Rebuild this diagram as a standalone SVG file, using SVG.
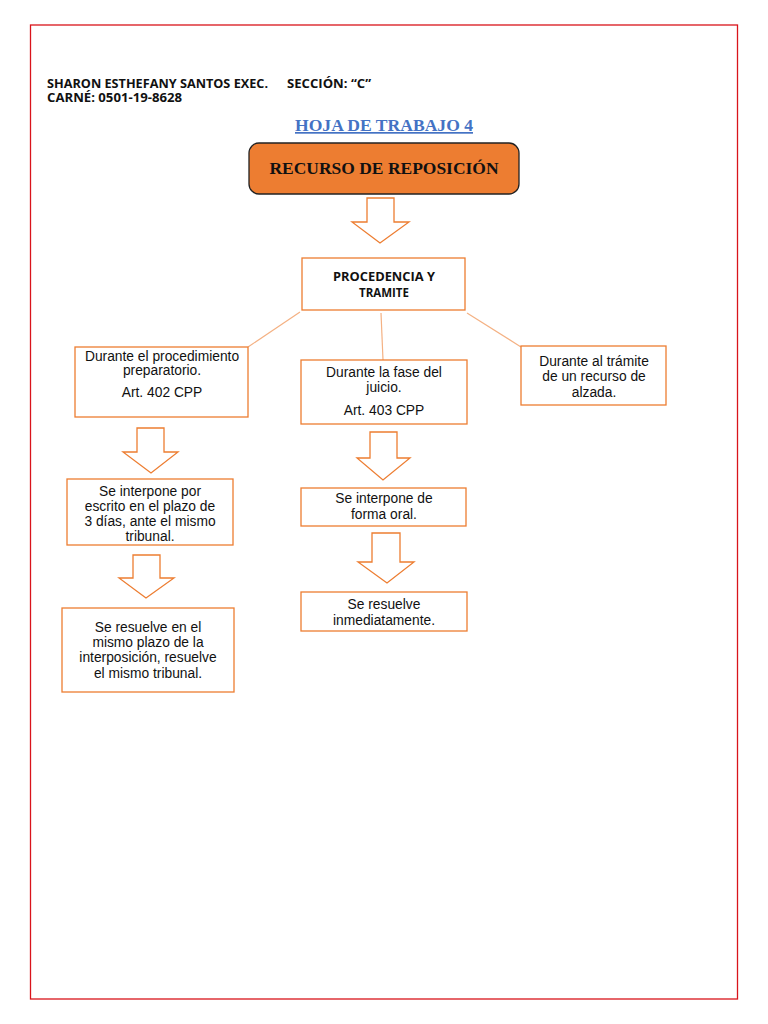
<svg xmlns="http://www.w3.org/2000/svg" width="768" height="1024" viewBox="0 0 768 1024">
<defs>
<style>
.box{fill:#fff;stroke:#ED7D31;stroke-width:1.3}
.arr{fill:#fff;stroke:#ED7D31;stroke-width:1.3;stroke-linejoin:miter}
.con{stroke:#F4B183;stroke-width:1.2;fill:none}
.t{font-family:"Liberation Sans",Arial,sans-serif;font-size:13.8px;fill:#111;text-anchor:middle}
.hd{font-family:"Open Sans","Liberation Sans",sans-serif;font-size:11.5px;font-weight:bold;fill:#111}
.pt{font-family:"Open Sans","Liberation Sans",sans-serif;font-size:11.5px;font-weight:bold;fill:#111;text-anchor:middle}
.serif{font-family:"Liberation Serif","Times New Roman",serif;font-weight:bold;text-anchor:middle}
</style>
</defs>
<rect width="768" height="1024" fill="#fff"/>
<rect x="30.5" y="25" width="707" height="974" fill="none" stroke="#D9141B" stroke-width="1.3"/>
<g id="header">
<text class="hd" x="47" y="88" textLength="221" lengthAdjust="spacingAndGlyphs">SHARON ESTHEFANY SANTOS EXEC.</text>
<text class="hd" x="287" y="88" textLength="84" lengthAdjust="spacingAndGlyphs">SECCIÓN: “C”</text>
<text class="hd" x="47" y="101.5" textLength="135" lengthAdjust="spacingAndGlyphs">CARNÉ: 0501-19-8628</text>
<text class="serif" x="384" y="131" font-size="17" fill="#4472C4" text-decoration="underline" textLength="178" lengthAdjust="spacingAndGlyphs">HOJA DE TRABAJO 4</text>
</g>
<g id="connectors">
<line class="con" x1="300" y1="312" x2="248" y2="347"/>
<line class="con" x1="381" y1="313" x2="383" y2="360"/>
<line class="con" x1="467" y1="313" x2="521" y2="347"/>
<polygon class="arr" points="367,198 394,198 394,222 409,222 380,243 352,222 367,222"/>
<polygon class="arr" points="137,428 164,428 164,452 178,452 151,473 123,452 137,452"/>
<polygon class="arr" points="133,555 160,555 160,578 174,578 146,598 119,578 133,578"/>
<polygon class="arr" points="370,432 397,432 397,458 410,458 383,480 357,458 370,458"/>
<polygon class="arr" points="372,533 400,533 400,562 414,562 387,583 358,562 372,562"/>
</g>
<g id="recurso">
<rect x="249" y="143" width="270" height="51" rx="10" fill="#ED7D31" stroke="#222" stroke-width="1.3"/>
<text class="serif" x="384" y="174" font-size="16.5" fill="#111" textLength="229" lengthAdjust="spacingAndGlyphs">RECURSO DE REPOSICIÓN</text>
</g>
<g id="procedencia">
<rect class="box" x="302" y="258" width="163" height="52"/>
<text class="pt" x="384" y="281" textLength="102" lengthAdjust="spacingAndGlyphs">PROCEDENCIA Y</text>
<text class="pt" x="384" y="297">TRAMITE</text>
</g>
<g id="preparatorio">
<rect class="box" x="75" y="347" width="173" height="70"/>
<text class="t" x="162" y="361">Durante el procedimiento</text>
<text class="t" x="162" y="375">preparatorio.</text>
<text class="t" x="162" y="397">Art. 402 CPP</text>
</g>
<g id="juicio">
<rect class="box" x="301" y="360" width="166" height="64"/>
<text class="t" x="384" y="377">Durante la fase del</text>
<text class="t" x="384" y="392">juicio.</text>
<text class="t" x="384" y="415">Art. 403 CPP</text>
</g>
<g id="alzada">
<rect class="box" x="521" y="346" width="145" height="59"/>
<text class="t" x="594" y="366">Durante al trámite</text>
<text class="t" x="594" y="381">de un recurso de</text>
<text class="t" x="594" y="397">alzada.</text>
</g>
<g id="escrito">
<rect class="box" x="67" y="479" width="166" height="66"/>
<text class="t" x="150" y="496">Se interpone por</text>
<text class="t" x="150" y="511">escrito en el plazo de</text>
<text class="t" x="150" y="526">3 días, ante el mismo</text>
<text class="t" x="150" y="541">tribunal.</text>
</g>
<g id="resuelve1">
<rect class="box" x="62" y="608" width="172" height="84"/>
<text class="t" x="148" y="632">Se resuelve en el</text>
<text class="t" x="148" y="647">mismo plazo de la</text>
<text class="t" x="148" y="662">interposición, resuelve</text>
<text class="t" x="148" y="678">el mismo tribunal.</text>
</g>
<g id="oral">
<rect class="box" x="301" y="488" width="165" height="38"/>
<text class="t" x="384" y="503">Se interpone de</text>
<text class="t" x="384" y="519">forma oral.</text>
</g>
<g id="inmediatamente">
<rect class="box" x="301" y="592" width="166" height="39"/>
<text class="t" x="384" y="609">Se resuelve</text>
<text class="t" x="384" y="625">inmediatamente.</text>
</g>
</svg>
